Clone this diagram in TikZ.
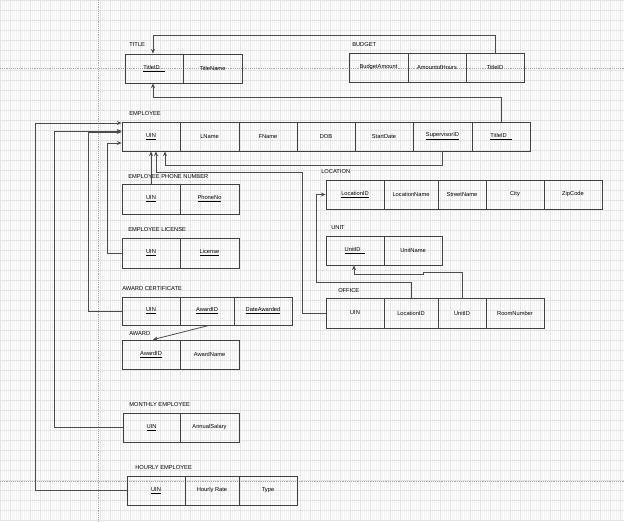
\documentclass[tikz,border=0pt]{standalone}
\usepackage{fontspec}
\setmainfont{Liberation Sans}
\usetikzlibrary{arrows.meta}
\tikzset{
  cell/.style={draw=black!75,semithick,inner sep=0pt,font=\fontsize{4.3}{5}\selectfont},
  lbl/.style={anchor=west,inner sep=0pt,font=\fontsize{4.3}{5}\selectfont},
  link/.style={draw=black!70,semithick},
  fk/.style={link,-{Stealth[length=3.5pt,width=3pt]}}
}
% cell: name, x1, x2, y1, y2, text
\newcommand\erCell[6]{\node[cell,minimum width={(#3-#2)*0.75pt},minimum height={(#5-#4)*0.75pt}] (#1) at ({(#2+#3)/2},{(#4+#5)/2}) {#6};}
\begin{document}
\begin{tikzpicture}[x=0.75pt,y=-0.75pt]
\useasboundingbox (0,0) rectangle (624,521);
\fill[white] (0,0) rectangle (624,521);
\draw[black!5,very thin,step=2] (0,0) grid (624,521);
\foreach \x in {0,10,...,620} \draw[black!11,very thin] (\x,0) -- (\x,521);
\foreach \y in {0,10,...,520} \draw[black!11,very thin] (0,\y) -- (624,\y);
\draw[black!35,densely dotted] (98,0) -- (98,521);
\draw[black!35,densely dotted] (0,68) -- (624,68);
\draw[black!35,densely dotted] (0,481) -- (624,481);

% tables
\node[lbl] (tTitle) at (129,45) {TITLE};
\erCell{titleId}{125}{183}{54}{83}{\underline{TitleID\ \ \ }}
\erCell{titleName}{183}{242}{54}{83}{TitleName}

\node[lbl] (tBudget) at (352,45) {BUDGET};
\erCell{budAmt}{349}{408}{53}{82}{BudgetAmount}
\erCell{budHrs}{408}{466}{53}{82}{AmountofHours}
\erCell{budTitle}{466}{524}{53}{82}{TitleID}

\node[lbl] (tEmp) at (129,114) {EMPLOYEE};
\erCell{empUin}{122}{180}{122}{151}{\underline{UIN}}
\erCell{empL}{180}{239}{122}{151}{LName}
\erCell{empF}{239}{297}{122}{151}{FName}
\erCell{empDob}{297}{355}{122}{151}{DOB}
\erCell{empStart}{355}{413}{122}{151}{StartDate}
\erCell{empSup}{413}{472}{122}{151}{\underline{SupervisorID}}
\erCell{empTitle}{472}{530}{122}{151}{\underline{TitleID\ \ \ }}

\node[lbl] (tPhone) at (128,177) {EMPLOYEE PHONE NUMBER};
\erCell{phUin}{122}{180}{184}{214}{\underline{UIN}}
\erCell{phNo}{180}{239}{184}{214}{\underline{PhoneNo}}

\node[lbl] (tLic) at (128,230) {EMPLOYEE LICENSE};
\erCell{licUin}{122}{180}{238}{268}{\underline{UIN}}
\erCell{licNo}{180}{239}{238}{268}{\underline{License}}

\node[lbl] (tCert) at (122,289) {AWARD CERTIFICATE};
\erCell{acUin}{122}{180}{297}{325}{\underline{UIN}}
\erCell{acAward}{180}{234}{297}{325}{\underline{AwardID}}
\erCell{acDate}{234}{292}{297}{325}{\underline{DateAwarded}}

\node[lbl] (tAward) at (129,334) {AWARD};
\erCell{awId}{122}{180}{340}{369}{\underline{AwardID}}
\erCell{awName}{180}{239}{340}{369}{AwardName}

\node[lbl] (tMonth) at (129,405) {MONTHLY EMPLOYEE};
\erCell{moUin}{123}{180}{413}{442}{\underline{UIN}}
\erCell{moSal}{180}{239}{413}{442}{AnnualSalary}

\node[lbl] (tHour) at (135,468) {HOURLY EMPLOYEE};
\erCell{hrUin}{127}{185}{476}{505}{\underline{UIN}}
\erCell{hrRate}{185}{239}{476}{505}{Hourly Rate}
\erCell{hrType}{239}{297}{476}{505}{Type}

\node[lbl] (tLoc) at (321,172) {LOCATION};
\erCell{locId}{326}{384}{180}{209}{\underline{LocationID}}
\erCell{locName}{384}{438}{180}{209}{LocationName}
\erCell{locStreet}{438}{486}{180}{209}{StreetName}
\erCell{locCity}{486}{544}{180}{209}{City}
\erCell{locZip}{544}{602}{180}{209}{ZipCode}

\node[lbl] (tUnit) at (331,228) {UNIT};
\erCell{unId}{326}{384}{236}{265}{\underline{UnitID\ \ \ }}
\erCell{unName}{384}{442}{236}{265}{UnitName}

\node[lbl] (tOff) at (338,291) {OFFICE};
\erCell{ofUin}{326}{384}{298}{328}{UIN}
\erCell{ofLoc}{384}{438}{298}{328}{LocationID}
\erCell{ofUnit}{438}{486}{298}{328}{UnitID}
\erCell{ofRoom}{486}{544}{298}{328}{RoomNumber}

% connectors
\draw[fk] (budTitle.north) |- (153,35) -- (titleId.north -| 153,0);
\draw[fk] (empTitle.north) |- (153,97) -- (titleId.south -| 153,0);
\draw[fk] (empSup.south) |- (165,165) -- (empUin.south -| 165,0);
\draw[fk] (phUin.north -| 151,0) -- (empUin.south -| 151,0);
\draw[fk] (ofUin.west) -| (302,172) -| (empUin.south -| 156,0);
\draw[fk] (licUin.west) -| (107,143) -- (empUin.west |- 0,143);
\draw[fk] (acUin.west) -| (88,132) -- (empUin.west |- 0,132);
\draw[fk] (moUin.west) -| (54,131) -- (empUin.west |- 0,131);
\draw[fk] (hrUin.west) -| (35,123) -- (empUin.west |- 0,123);
\draw[fk] (ofLoc.north) |- (316,282) |- (locId.west);
\draw[fk] (ofUnit.north) |- (423,272) -- (423,274) -| (unId.south -| 354,0);
\draw[fk] (acAward.south -| 209,0) -- (awId.north -| 153,0);
\end{tikzpicture}
\end{document}
